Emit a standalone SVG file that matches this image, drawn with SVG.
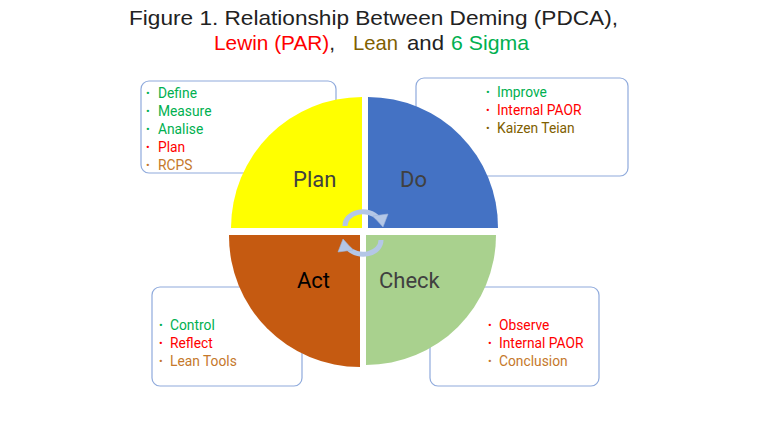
<svg xmlns="http://www.w3.org/2000/svg" width="768" height="432" viewBox="0 0 768 432">
<style>
.title{font-family:"Liberation Sans","Open Sans",sans-serif;font-size:21px;fill:#222}
.box{fill:#fff;stroke:#8FAADC;stroke-width:1.2}
.it{font-family:Roboto,"Liberation Sans",sans-serif;font-size:13.8px}
.bl{font-family:Roboto,"Liberation Sans",sans-serif;font-size:11px}
.q{font-family:Roboto,"Liberation Sans",sans-serif;font-size:22px}
.g{fill:#00B050}.r{fill:#FF0000}.o{fill:#806000}.b{fill:#C5782B}
.arc{fill:none;stroke:#B4C7E7;stroke-width:5}
.ah{fill:#B4C7E7;stroke:#9DB3DA;stroke-width:0.6}
</style>
<rect width="768" height="432" fill="#fff"/>
<g id="title">
<text class="title" x="129" y="25" textLength="489" lengthAdjust="spacingAndGlyphs">Figure 1. Relationship Between Deming (PDCA),</text>
<text class="title" x="214" y="50" textLength="121" lengthAdjust="spacingAndGlyphs"><tspan class="r">Lewin (PAR)</tspan>,</text>
<text class="title o" x="353" y="50" textLength="45" lengthAdjust="spacingAndGlyphs">Lean</text>
<text class="title" x="407" y="50" textLength="37" lengthAdjust="spacingAndGlyphs">and</text>
<text class="title g" x="451" y="50" textLength="78" lengthAdjust="spacingAndGlyphs">6 Sigma</text>
</g>
<g id="box-plan">
<rect class="box" x="141" y="81" width="195" height="92" rx="8"/>
<text class="bl g" x="146" y="97">•</text><text class="it g" x="158" y="98">Define</text>
<text class="bl g" x="146" y="115">•</text><text class="it g" x="158" y="116">Measure</text>
<text class="bl g" x="146" y="133">•</text><text class="it g" x="158" y="134">Analise</text>
<text class="bl r" x="146" y="151">•</text><text class="it r" x="158" y="152">Plan</text>
<text class="bl b" x="146" y="169">•</text><text class="it b" x="158" y="170">RCPS</text>
</g>
<g id="box-do">
<rect class="box" x="416" y="78" width="212" height="98" rx="8"/>
<text class="bl g" x="486" y="96">•</text><text class="it g" x="497" y="97">Improve</text>
<text class="bl r" x="486" y="114">•</text><text class="it r" x="497" y="115">Internal PAOR</text>
<text class="bl o" x="486" y="132">•</text><text class="it o" x="497" y="133">Kaizen Teian</text>
</g>
<g id="box-act">
<rect class="box" x="152" y="287" width="150" height="99" rx="8"/>
<text class="bl g" x="159" y="329">•</text><text class="it g" x="170" y="330">Control</text>
<text class="bl r" x="159" y="347">•</text><text class="it r" x="170" y="348">Reflect</text>
<text class="bl b" x="159" y="365">•</text><text class="it b" x="170" y="366">Lean Tools</text>
</g>
<g id="box-check">
<rect class="box" x="430" y="287" width="169" height="99" rx="8"/>
<text class="bl r" x="488" y="329">•</text><text class="it r" x="499" y="330">Observe</text>
<text class="bl r" x="488" y="347">•</text><text class="it r" x="499" y="348">Internal PAOR</text>
<text class="bl b" x="488" y="365">•</text><text class="it b" x="499" y="366">Conclusion</text>
</g>
<g id="plan">
<path d="M362,228 L231,228 A131,131 0 0 1 362,97 Z" fill="#FFFF00"/>
<text class="q" x="293" y="187" fill="#404040">Plan</text>
</g>
<g id="do">
<path d="M368,228 L368,97 A130,130 0 0 1 498,228 Z" fill="#4472C4"/>
<text class="q" x="400" y="187" fill="#404040">Do</text>
</g>
<g id="act">
<path d="M360,235 L360,367 A131,131 0 0 1 229,235 Z" fill="#C55A11"/>
<text class="q" x="297" y="288" fill="#000">Act</text>
</g>
<g id="check">
<path d="M366,235 L496,235 A130,130 0 0 1 366,365 Z" fill="#A9D18E"/>
<text class="q" x="379" y="288" fill="#404040">Check</text>
</g>
<g id="connectors">
<path class="arc" d="M345,226 A18,14 0 0 1 378,218"/>
<polygon class="ah" points="373,216 388,214 383,227"/>
<path class="arc" d="M381,240 A18,14 0 0 1 348,248"/>
<polygon class="ah" points="353,250 338,252 343,239"/>
</g>
</svg>
